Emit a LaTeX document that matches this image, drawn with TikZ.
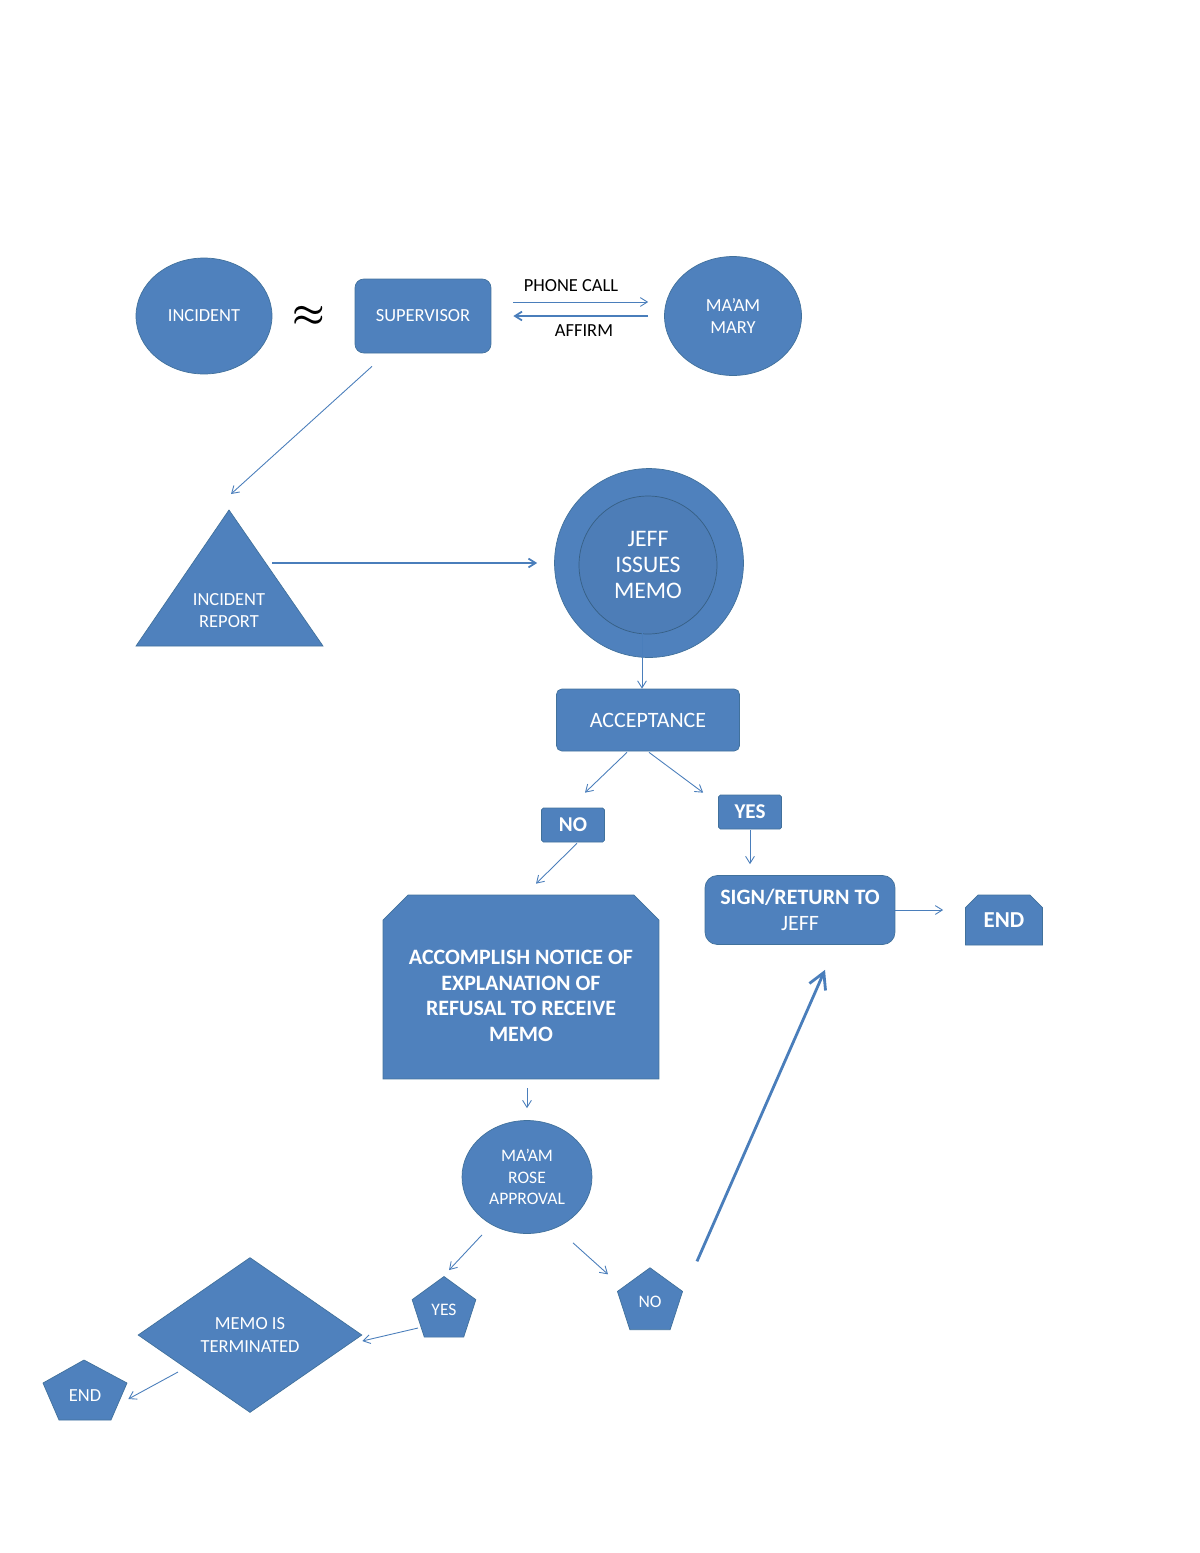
\documentclass[tikz,border=0pt]{standalone}
\usepackage{amsmath}
\usepackage{fontspec}
\setmainfont{Carlito}
\usepackage{tikz}
\usetikzlibrary{positioning, shapes.geometric, shapes.misc, arrows.meta, calc}

\definecolor{memoblue}{HTML}{4F81BD}
\definecolor{memoedge}{HTML}{41719C}
\definecolor{memoline}{HTML}{4A7EBB}
\newcommand{\fsz}[2]{\fontsize{#1}{#2}\selectfont}

\begin{document}
\begin{tikzpicture}[x=0.02cm, y=-0.02cm, >={Straight Barb[length=4pt,width=5pt]},
  blob/.style={fill=memoblue, draw=memoedge, line width=0.4pt, text=white, align=center, inner sep=0pt, font=\fsz{10.5}{13}},
  link/.style={->, draw=memoline, line width=0.5pt}]
  \useasboundingbox (0,0) rectangle (1200,1553);

  % top row
  \node (incident) [blob, ellipse, minimum width=2.72cm, minimum height=2.32cm] at (204,316) {INCIDENT};
  \node (approx) at (309,316) {\fsz{22}{22}$\boldsymbol{\approx}$};
  \node (supervisor) [blob, rounded corners=5pt, minimum width=2.72cm, minimum height=1.48cm] at (423,316) {SUPERVISOR};
  \node (mary) [blob, ellipse, minimum width=2.74cm, minimum height=2.38cm] at (733,316) {MA'AM\\MARY};
  \node (phone) [font=\fsz{10.5}{13}] at (571,286) {PHONE CALL};
  \node (affirm) [font=\fsz{10.5}{13}] at (584,331) {AFFIRM};

  % report and memo
  \fill[memoblue, draw=memoedge, line width=0.4pt] (229,510) -- (323,646) -- (136,646) -- cycle;
  \coordinate (apex) at (229,510);
  \node (report) [text=white, align=center, font=\fsz{10.5}{12.5}] at (229,611) {INCIDENT\\REPORT};
  \node (jeff) [blob, circle, minimum size=3.78cm] at (649,563) {};
  \node (jeffin) [blob, circle, fill=memoblue!97!black, draw=memoedge!85!black, minimum size=2.76cm, font=\fsz{13.5}{14.7}] at (648,565) {JEFF\\ISSUES\\MEMO};
  \node (accept) [blob, rounded corners=3pt, minimum width=3.66cm, minimum height=1.24cm, font=\fsz{12.5}{15}] at (648,720) {ACCEPTANCE};
  \node (no) [blob, rounded corners=1pt, minimum width=1.26cm, minimum height=0.68cm, font=\bfseries\fsz{12}{14}] at (573,825) {NO};
  \node (yes) [blob, rounded corners=1pt, minimum width=1.26cm, minimum height=0.68cm, font=\bfseries\fsz{12}{14}] at (750,812) {YES};

  % branches
  \node (notice) [blob, chamfered rectangle, chamfered rectangle corners={north west, north east}, chamfered rectangle xsep=0.25cm, chamfered rectangle ysep=0.25cm, minimum width=5.52cm, minimum height=3.68cm, font=\bfseries\fsz{12.5}{14.5}] at (521,987) {\rule{0pt}{18.5pt}ACCOMPLISH NOTICE OF\\EXPLANATION OF\\REFUSAL TO RECEIVE\\MEMO};
  \node (sign) [blob, rounded corners=7pt, minimum width=3.8cm, minimum height=1.38cm, font=\fsz{12.5}{14.7}] at (800,910) {\textbf{SIGN/RETURN TO}\\JEFF};
  \node (endright) [blob, chamfered rectangle, chamfered rectangle corners={north west, north east}, chamfered rectangle xsep=0.09cm, chamfered rectangle ysep=0.16cm, minimum width=1.54cm, minimum height=1cm, font=\bfseries\fsz{13}{15}] at (1004,920) {END};
  \node (rose) [blob, ellipse, minimum width=2.6cm, minimum height=2.26cm, font=\fsz{10}{12.2}] at (527,1177) {MA'AM\\ROSE\\APPROVAL};
  \node (yestwo) [blob, regular polygon, regular polygon sides=5, minimum size=1.34cm, font=\fsz{10}{12}] at (444,1310) {YES};
  \node (notwo) [blob, regular polygon, regular polygon sides=5, minimum size=1.37cm, font=\fsz{10}{12}] at (650,1302) {NO};
  \node (terminated) [blob, diamond, minimum width=4.48cm, minimum height=3.1cm] at (250,1335) {MEMO IS\\TERMINATED};
  \fill[memoblue, draw=memoedge, line width=0.4pt] (84,1360) -- (127,1383) -- (111,1420) -- (59,1420) -- (43,1383) -- cycle;
  \node (endleft) [text=white, font=\fsz{10.5}{13}, minimum width=1.68cm] at (85,1396) {END};

  % connectors
  \draw[link] ($(supervisor.east)+(22,-14)$) -- ($(mary.west)+(-16,-14)$);
  \draw[link, line width=1pt] ($(mary.west)+(-16,0)$) -- ($(supervisor.east)+(22,0)$);
  \draw[link] ($(supervisor.south)+(-51,13)$) -- ($(apex)+(2,-16)$);
  \draw[link, line width=1pt] ($(apex)+(43,53)$) -- ($(jeff.west)+(-17,0)$);
  \draw[link] ($(jeffin.south)+(-6,-2)$) -- ($(accept.north)+(-6,0)$);
  \draw[link] ($(accept.south)+(-21,1)$) -- ($(no.north)+(12,-15)$);
  \draw[link] ($(accept.south)+(1,1)$) -- ($(yes.north west)+(-15,-2)$);
  \draw[link] ($(no.south)+(4,1)$) -- ($(notice.north)+(15,-11)$);
  \draw[link] ($(yes.south)+(0,1)$) -- ($(sign.north)+(-50,-11)$);
  \draw[link] (sign.east) -- ($(endright.west)+(-22,-10)$);
  \draw[link] ($(notice.south)+(6,9)$) -- ($(rose.north)+(0,-12)$);
  \draw[link] ($(rose.south)+(-45,1)$) -- ($(yestwo.north)+(5,-6)$);
  \draw[link] ($(rose.south)+(46,9)$) -- ($(notwo.north)+(-42,7)$);
  \draw[draw=memoline, line width=1.6pt, -{Straight Barb[length=9pt,width=10pt]}] ($(notwo.north)+(47,-6)$) -- ($(sign.south)+(25,25)$);
  \draw[link] ($(yestwo.center)+(-26,18)$) -- ($(terminated.east)+(0,6)$);
  \draw[link] ($(terminated.center)+(-72,37)$) -- ($(endleft.east)+(1,3)$);
\end{tikzpicture}
\end{document}
